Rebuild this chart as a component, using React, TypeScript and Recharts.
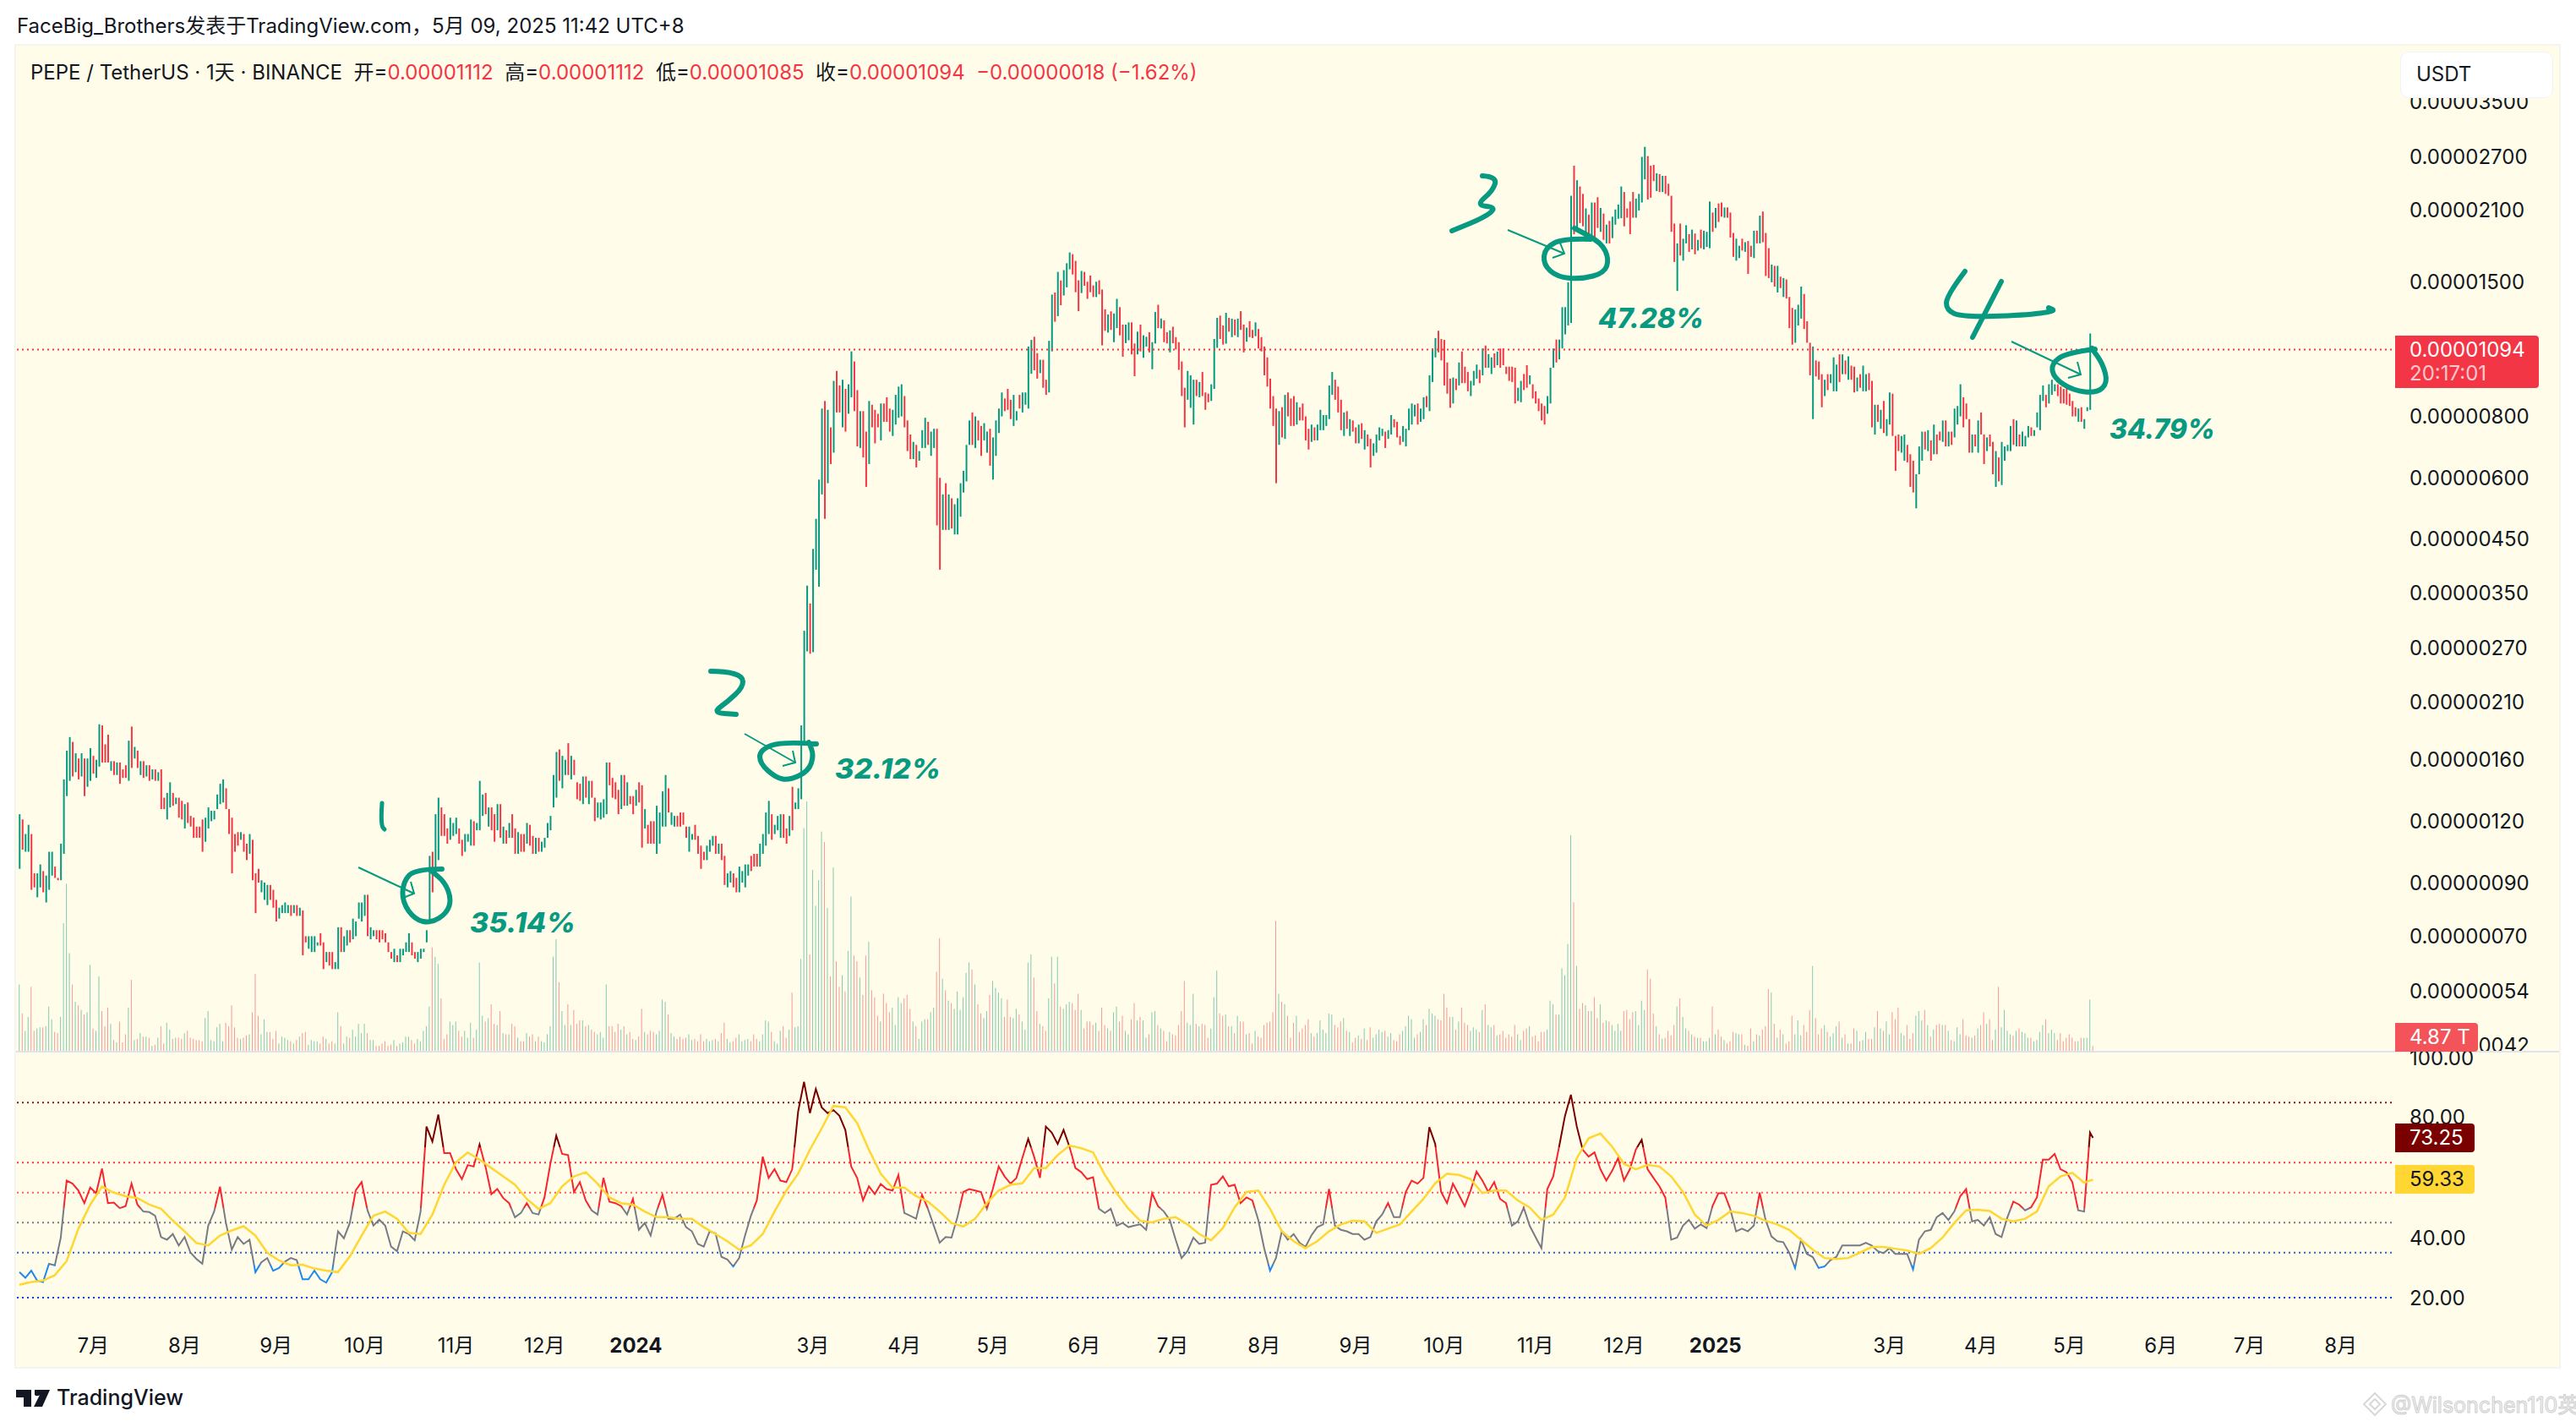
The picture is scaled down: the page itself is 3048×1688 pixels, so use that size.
// PEPE / TetherUS daily chart with volume and RSI panes
import { ComposedChart, Bar, Line, XAxis, YAxis, ReferenceLine } from "recharts";

// prices are in units of 0.00000001 USDT. each pair is one day: from,to
// from < to is an up day (low,high), from > to is a down day (high,low)
const movesJun2023 = [
  96,124, 121,105, 104,113, 104,118, 113,87, 94,88, 84,94, 88,98, 95,86, 82,93, 87,104, 93,104, 97,92, 92,91, 91,108, 103,146, 135,167, 145,178, 174,148, 151,165, 161,146, 148,165, 161,135, 141,161, 145,169,
  163,150, 147,160, 155,189, 188,158, 172,158, 180,158, 152,159, 159,149, 149,158, 158,143, 153,147, 156,147, 145,175, 187,154, 161,170, 167,154, 149,159, 159,147, 148,156, 156,145, 146,153, 153,145, 145,151, 153,127, 134,127, 121,137, 128,144, 137,129, 130,134, 134,122, 132,121,
  116,130, 131,119, 123,117, 122,111, 117,111, 117,111, 121,104, 109,122, 116,128, 120,126, 121,126, 127,136, 130,143, 131,146, 140,127, 127,113, 122,94, 113,104, 114,107, 110,114, 113,104, 108,100, 103,113, 110,91, 94,78, 96,90, 86,91, 83,90, 81,89, 89,83, 87,80,
  83,75, 76,80, 78,81, 78,82, 78,81, 81,77, 78,81, 81,77, 77,80, 79,64, 70,68, 66,70, 65,70, 65,70, 67,68, 71,67, 68,60, 62,65, 65,61, 65,60, 60,62, 60,73, 73,65, 65,70, 67,72, 72,68, 69,76, 70,75, 76,82, 75,82,
  77,85, 85,70, 69,73, 70,72, 72,69, 72,68, 72,69, 71,68, 68,65, 65,63, 62,66, 64,62, 62,66, 64,66, 65,68, 65,71, 68,64, 65,63, 62,65, 63,66, 65,66, 68,72, 75,102, 104,86, 93,124, 100,134, 128,112, 124,112, 116,108, 110,122, 112,119,
  113,122, 116,108, 110,102, 104,113, 109,113, 107,121, 120,107, 115,119, 115,145, 123,136, 137,124, 117,128, 128,115, 124,109, 115,130, 130,111, 108,117, 115,108, 111,119, 124,111, 116,103, 103,114, 113,104, 113,104, 108,119, 118,107, 112,103, 103,111, 111,104, 104,109, 106,111,
  111,119, 115,123, 128,149, 134,166, 168,145, 140,163, 149,160, 173,149, 146,163, 160,149, 144,133, 143,132, 130,148, 148,134, 130,145, 145,134, 134,120, 122,131, 121,131, 122,133, 124,158, 158,142, 147,134, 144,133, 139,124, 127,149, 149,129, 129,144, 135,130, 135,124, 129,139,
  144,131, 142,106, 116,127, 118,108, 120,108, 120,108, 103,129, 108,125, 117,138, 117,149, 140,125, 118,125, 117,123, 123,117, 125,117, 125,118, 117,111, 104,117, 110,113, 118,110, 112,103, 107,96, 104,100, 100,107, 104,110, 107,112, 112,103, 103,108, 108,100, 102,89,
  88,94, 90,95, 94,88, 92,86, 86,97, 90,95, 88,98, 93,98, 102,95, 103,97, 103,97, 97,108, 103,113, 107,125, 113,132, 124,110, 113,118, 115,123, 111,124, 124,111, 116,108, 112,123, 141,115, 127,131, 127,140, 133,188,
];
const movesMar2024 = [
  172,293, 266,362, 333,263, 265,430, 390,495, 360,595, 555,830, 860,495, 585,825, 760,640, 675,945, 990,815, 925,815, 760,950, 910,745, 810,930, 875,1085, 1035,820, 905,695, 690,820, 820,660, 745,575, 640,860, 845,760, 825,705, 810,760, 715,850, 850,780, 875,780, 830,745, 730,825, 770,885, 795,920, 800,930, 880,760, 785,680, 735,655, 655,710, 700,630, 650,680, 690,750, 690,795, 780,700, 665,745, 690,755, 755,480, 600,390, 470,555, 585,470, 470,555, 545,473, 460,530, 460,545, 500,585, 560,620, 590,700, 700,785, 815,700, 690,800, 785,715, 765,665, 715,775, 675,745, 755,635, 595,725, 665,785, 740,830, 800,895, 870,820, 910,825, 865,790, 765,885, 785,820, 885,830, 815,895, 845,895,
];
const movesMay2024 = [
  830,1110, 977,1145, 1162,993, 1076,955, 980,1043, 1043,915, 950,885, 895,1140, 1085,1416, 1430,1247, 1280,1575, 1513,1347, 1410,1588, 1465,1640, 1594,1725, 1711,1556, 1658,1432, 1514,1310, 1426,1582, 1575,1476, 1504,1388, 1548,1432, 1478,1400, 1400,1504, 1514,1418, 1450,1116, 1322,1195, 1185,1290, 1309,1200, 1133,1296, 1210,1388, 1335,1170, 1230,1058, 1128,1230, 1143,1243, 1243,1070, 1126,966, 1070,1190, 1230,1085, 1053,1170, 1110,1162, 1187,1080, 998,1133, 1126,1305, 1350,1210, 1208,1266, 1255,1133, 1187,1126, 1080,1197, 1218,1127, 1160,1095, 1133,995,
  1035,880, 915,760, 865,990, 833,970, 770,950, 950,880, 875,940, 985,880, 895,825, 890,855, 860,930, 910,1150, 1103,1270, 1283,1150, 1225,1120, 1125,1300, 1270,1190, 1160,1265, 1260,1170, 1160,1265, 1310,1200, 1230,1080, 1135,1213, 1250,1160, 1200,1155, 1165,1243, 1205,1100, 1160,1085, 1110,970, 1055,920, 955,830,
  880,765, 830,585, 700,820, 835,725, 720,885, 895,800, 870,765, 880,765, 770,855, 835,785, 850,785, 800,715, 755,685, 710,770, 760,715, 715,770, 750,825, 750,805, 765,805, 790,925, 885,985, 950,865, 920,815, 865,750, 730,815, 820,755, 730,790, 785,745, 760,705, 705,770, 775,720, 685,750, 735,695, 720,630, 665,705, 675,735, 715,760, 730,755, 745,690, 720,750, 735,805, 790,760, 780,725, 730,700, 710,765, 695,755, 750,830, 770,850, 800,845, 850,770, 780,830, 790,875, 880,835, 820,970, 940,1100, 1055,1155, 1195,1080, 1150,1040, 1145,925, 1030,890, 955,833, 850,960, 955,905, 925,1030, 1085,935, 1010,935, 985,900, 880,945, 925,990, 955,1020, 995,935, 970,1100, 1115,1005,
];
const movesOct2024 = [
  1005,1071, 976,1055, 1075,1005, 1017,1084, 1100,1005, 1100,1017, 1010,976, 1010,945, 1010,940, 1005,850, 860,915, 855,945, 976,905, 1017,915, 930,970, 930,870, 900,850, 870,820, 850,785, 840,770, 810,880, 850,1005, 1005,1100, 1147,1030, 1045,1147, 1100,1335, 1175,1335, 1225,1500, 1240,2250, 2590,1880, 1930,2420, 2350,1980, 2270,1950, 1820,2120, 2060,1845, 1830,2180, 2180,1845, 2235,1935, 1900,2125, 2070,1830, 1800,1965, 2000,1800, 1845,2040, 1965,2110, 2020,2160, 2025,2350, 2290,1950, 2120,2030, 2190,1880, 2290,2030, 2030,2220, 2100,2270, 2180,2700, 2430,2830, 2710,2210, 2590,2230, 2600,2410, 2300,2500, 2490,2290, 2290,2470, 2470,2270, 2380,2250, 2250,1900, 1975,1650, 1440,1800, 1975,1700, 1660,1840, 1800,1960, 1880,1730, 1750,1920, 1885,1710, 1740,1830, 1920,1760, 1750,1910, 1770,1900, 1760,2190, 2080,1900, 1935,2125, 2170,1990, 2180,2040, 2030,2130, 2130,2030, 2080,1850, 1890,1690, 1660,1840, 1680,1780, 1840,1740, 1730,1810, 1820,1560, 1780,1690, 1680,1910, 1910,1800, 1800,2050, 2090,1810, 1890,1545, 1760,1530, 1500,1630, 1620,1470, 1430,1620, 1540,1460, 1400,1530, 1520,1390, 1400,1210, 1330,1120, 1130,1320, 1225,1350, 1265,1470, 1420,1205, 1250,1130, 1130,970, 790,1110, 1040,965, 1035,950, 975,835, 880,950, 975,905, 935,975, 900,1055, 900,1020, 1070,940, 975,1070, 1040,975, 950,1060, 1015,950, 1010,895, 900,960, 975,915, 900,1015, 900,975, 980,905, 945,760, 735,845, 845,780, 755,825, 860,740, 730,790, 770,895, 890,730, 730,620, 735,680, 675,730, 650,735, 700,645, 670,575, 650,560, 520,610, 610,695, 650,745, 745,685, 680,750, 715,650, 670,770, 735,670, 745,715, 710,785, 785,695, 695,745, 745,700, 725,830, 770,840, 800,930, 875,760, 850,790, 790,675, 675,735, 735,695, 675,785, 815,735, 735,640, 680,725, 735,695, 710,610, 575,680, 660,590, 580,710, 650,695, 680,700, 680,765, 790,700, 695,785, 735,695, 695,745, 695,730, 725,765, 760,730, 730,750, 760,815, 750,885, 860,925, 885,835, 850,930, 885,950, 900,930, 930,880, 920,850, 910,850, 915,845, 890,840, 860,800, 835,800, 780,830, 835,780, 755,790, 820,835, 825,1180, 1112,1085,
];

// volume per day in trillions of PEPE
const volumesA = [
  58,33,18,30,56,18,20,21,21,22,39,28,17,16,30,111,145,85,58,43,40,36,32,34,75,20,18,65,35,22,38,24,10,8,26,8,15,38,62,10,11,16,13,13,12,5,6,12,22,7,25,19,11,12,12,11,16,18,12,11,10,10,9,29,35,10,9,21,24,9,25,22,40,21,12,11,12,14,15,34,67,31,15,28,17,17,11,18,7,13,12,10,9,7,10,13,16,17,6,10,9,9,7,13,11,7,9,7,34,22,7,13,12,19,13,24,16,24,16,10,10,5,5,7,9,5,6,10,5,7,8,13,13,10,7,11,9,18,22,39,90,82,76,46,11,15,26,23,26,18,13,18,12,25,12,19,77,31,26,29,41,24,23,35,16,15,15,24,22,12,9,9,16,13,15,9,13,9,8,15,22,82,97,60,35,23,41,23,36,24,27,27,22,23,19,17,15,17,12,58,22,22,17,24,19,22,15,17,11,10,13,37,17,15,18,17,15,18,45,43,32,16,13,11,13,11,12,15,10,11,9,15,9,11,9,10,11,9,16,25,11,8,9,12,15,9,10,11,9,15,11,9,15,27,26,17,9,7,18,22,12,19,51,21,22,80,193,216,84,
];
const volumesB = [
  157,126,148,190,181,124,65,159,78,56,66,52,87,134,83,78,64,49,83,95,53,47,31,26,50,42,34,38,23,47,42,46,49,37,26,22,11,26,28,28,34,38,69,98,63,53,44,42,37,52,36,47,68,77,71,58,41,33,29,35,49,61,55,51,46,30,45,30,29,37,32,26,19,77,84,64,35,24,22,18,46,82,59,82,39,37,41,43,42,36,50,36,20,26,26,23,25,18,38,23,20,18,34,39,26,31,18,15,28,42,27,30,27,12,15,34,35,23,20,18,9,17,15,14,23,35,61,25,23,50,24,22,24,23,12,20,47,70,33,31,32,22,22,16,31,26,26,15,16,7,18,13,12,23,25,26,34,113,50,43,41,31,12,25,31,17,20,23,28,16,13,16,27,19,16,33,32,23,21,26,29,18,17,8,12,14,11,20,10,21,12,15,19,17,18,13,16,10,9,15,18,22,31,28,12,15,17,28,23,37,33,31,28,27,50,38,30,30,19,26,38,25,23,18,21,19,17,36,41,
];
const volumesC = [
  23,21,23,14,15,18,12,15,13,23,15,10,18,20,22,13,14,9,17,17,19,44,41,32,32,72,66,93,187,129,74,37,42,40,35,35,47,29,41,25,27,26,23,18,24,18,35,36,28,34,35,23,44,36,71,63,33,22,15,11,12,18,14,23,39,46,30,20,18,15,13,12,12,9,9,12,39,15,19,13,10,7,9,17,16,15,15,6,5,20,9,15,14,19,22,54,51,24,12,19,15,7,9,31,15,27,14,23,17,36,74,29,15,20,23,17,13,16,22,26,12,15,7,7,20,18,9,10,17,11,11,21,35,20,18,26,15,34,28,38,16,14,23,11,16,31,35,27,36,23,13,19,23,24,23,23,18,10,9,21,15,28,14,13,12,14,20,23,34,24,28,10,19,56,21,36,18,15,14,18,20,17,16,12,12,9,10,17,23,28,16,19,16,10,16,9,12,15,12,9,9,12,12,12,45,4.87,
];

// RSI read every second day, last value is the live one
const rsiEveryTwoDays = [
  28.5,26.6,29,25.7,25.2,31.3,30.8,40,59,58,55.7,51.5,56.7,54.8,63,51.5,51.7,49.8,50.5,58,51,48.7,48.5,47.3,40.2,39.3,41.2,37.4,40.2,35,32.9,31.3,44,48.7,57,44.9,36,40.2,37.9,39.3,28.5,31.8,33.2,29,29.9,32,33.2,32.5,26.1,26.1,29,26.1,25,28.5,42.1,39.8,44.9,55.7,58.5,49.1,44,46,44,37,35.5,42.1,41.2,39.1,48.7,77,72,81,68.2,68.2,62.8,59.5,64.2,63.7,71,63.7,54.5,56.2,53.2,51.5,46.8,48.2,51.5,48.2,47.7,53.4,64.6,74,67.9,67.5,55.2,58.5,52.4,49.1,47.7,59.9,
  52,51.5,50.5,47.7,52.9,42.6,44.9,40.7,48.7,54.3,46.3,46.3,47.7,43.5,42.1,37.9,37,42.1,41.4,33.6,32.7,30.4,33.2,40.7,47.3,52.4,67,59.9,62.8,59,58.5,62.8,82,91.9,81.5,89.5,83.4,81.5,82.5,80.6,75.9,63.7,59.9,52.4,57.1,54.5,57.9,56.2,55.7,60.9,48.2,47.3,46.3,54.3,49.6,44,38.3,40.2,40,46.8,55.2,56.2,55.7,55.2,49.6,56.2,63.7,60.4,58,59.9,66.5,72.9,67,59.9,77,75,71.2,75.9,70.3,63.2,61.8,59.5,60.1,49.6,48.2,49.6,44,44.9,43.5,44,44.4,42.6,54.8,50.5,48.7,45.9,39.3,33.2,35.5,40,
  37.9,38.3,57.6,58,60.4,57.1,57.6,51.5,53.4,52.4,45.9,36.5,29,33.2,42.1,39.3,41.2,38.3,36.9,40.7,43.5,44.4,56.2,44,42.6,42.1,41.2,41.2,39.3,40.2,45.4,47.7,51.5,46.8,46.8,55.2,59,58,59.9,76.8,71.2,55.2,51.5,58,54.3,50.5,55.7,62,59,55.2,58.5,52.9,51.5,44,45.4,50,44,40.2,36.5,56.2,60.4,70.3,80.6,87.6,77,69.3,67,68.4,62.8,59,62.3,66.5,59,62.8,69.3,72.6,62.8,59.9,57.1,53.4,39.3,40,44,45.9,43,44.4,43.2,50.5,54.8,54.8,49.6,42.1,43,42.1,44,55,45.9,40.4,38.8,38.5,
  35,29.9,39.3,34.6,33.5,29.9,30.4,32.5,33.6,37.4,37.4,37.4,37.4,38.3,37.4,35.5,34.8,36.5,34.6,34.6,34.6,29.4,39.3,42.1,42.6,46.8,48.2,45.9,48.7,53.8,56.2,45.4,45.9,44,46.8,41.2,40.2,46.8,52,51,49.1,50.1,53.4,66,66,67.9,62.8,61.8,58.5,49.1,48.7,75,
];
const rsiLast = 73.25;

// RSI moving average read every fourth day
const rsiMaEveryFourDays = [
  24.3,25.2,25.7,27.5,32.2,43,51,57,55,53.8,53.2,51,49.6,45.7,42.1,38.2,37.4,40.7,42.4,43.8,40.7,35,32.4,30.8,31,29.7,29,28.5,33.7,40.7,47.3,48.7,46.3,41.6,41.2,47.7,57.6,65.1,68.4,66,63.2,60.4,57.6,52.9,49.6,51.5,57.1,60.4,61.8,58,53.4,51.5,51,48.7,46.8,46.8,46.3,46.3,43.5,41.2,38.8,36,37.4,41.2,48.7,55.7,61.3,69.3,76.4,83.9,83.4,78.2,69.3,61.3,56.7,56.7,53.8,52,48.7,44.9,43.7,46.3,51.5,55.7,57.6,58.1,63.2,63.2,67.5,70.7,69.8,68.4,60.9,54.8,49.6,45.6,45.1,46.3,46.8,44.4,41.2,39.1,43.2,50.1,55.2,55.7,49.6,42.1,38.8,36.5,38.8,42.1,44.4,45.6,45.4,41.6,43,44.4,48.7,52.9,58.1,61.3,60.9,59.5,54.8,55.7,55.7,52.4,50.1,45.9,47.7,53.4,66.5,73.1,74.7,70.3,64.6,62.8,64.2,63.7,60.4,55.2,47.7,44,45.9,48.7,48.2,47.3,45.6,44.4,42.6,39.3,36,33.2,32.9,33.2,35,36.9,36.9,36.3,35.7,34.6,36.5,40,44.9,49.1,49.3,48.9,46.3,45.4,46.3,48.7,57.1,60.4,61.6,58.3,
];
const rsiMaLast = 59.33;

const rsiLevels = [
  { value: 85, color: "#801922" },
  { value: 65, color: "#F23645" },
  { value: 55, color: "#FF5F5F" },
  { value: 45, color: "#787B86" },
  { value: 35, color: "#2962C4" },
  { value: 20, color: "#0D3FE0" },
];

const priceTicks = [3500, 2700, 2100, 1500, 800, 600, 450, 350, 270, 210, 160, 120, 90, 70, 54, 42];
const rsiTicks = [100, 80, 60, 40, 20];
const monthTicks = [25, 56, 87, 117, 148, 178, 209, 269, 300, 330, 361, 391, 422, 453, 483, 514, 544, 575, 634, 665, 695, 726, 756, 787];
const monthLabels = ["7月", "8月", "9月", "10月", "11月", "12月", "2024", "3月", "4月", "5月", "6月", "7月", "8月", "9月", "10月", "11月", "12月", "2025", "3月", "4月", "5月", "6月", "7月", "8月"];

const GREEN = "#089981";
const RED = "#F23645";
const FONT = "Inter, 'Noto Sans CJK SC', sans-serif";
const DAYS = 704;
const DAY_DOMAIN = [-1.15, 804.3];
const PRICE_DOMAIN = [40.75, 4547];
const RSI_DOMAIN = [11.27, 101.97];
const RSI_PLOT_HEIGHT = 322;

const moves: number[][] = [];
const place = (list: number[], start: number) => {
  for (let n = 0; n < list.length / 2; n++) moves[start + n] = [list[2 * n], list[2 * n + 1]];
};
place(movesJun2023, 0);
place(movesMar2024, 266);
place(movesMay2024, 342);
place(movesOct2024, DAYS - movesOct2024.length / 2);

const chartData = Array.from({ length: DAYS }, (_, day) => {
  const move = moves[day];
  const volume = day < 269 ? volumesA[day] : day < 498 ? volumesB[day - 269] : volumesC[day - 498];
  let rsi: number | null = day % 2 === 0 ? rsiEveryTwoDays[day / 2] ?? null : null;
  let rsiMa: number | null = day % 4 === 0 ? rsiMaEveryFourDays[day / 4] ?? null : null;
  if (day === DAYS - 1) {
    rsi = rsiLast;
    rsiMa = rsiMaLast;
  }
  return {
    day,
    range: move ? [Math.min(move[0], move[1]), Math.max(move[0], move[1])] : null,
    up: move ? move[1] > move[0] : true,
    volume: volume ?? null,
    rsi,
    rsiMa,
  };
});

// drawn by hand on the original, in page pixels
const inkStrokes = [
  { w: 5, pts: [[452, 950], [451, 965], [452, 978], [455, 981]] },
  { w: 6, pts: [[523, 1028], [491, 1028], [477, 1043], [476, 1067], [491, 1088], [510, 1092], [529, 1080], [534, 1063], [526, 1043], [510, 1030]] },
  { w: 6, pts: [[841, 794], [858, 794], [879, 800], [879, 813], [861, 830], [843, 843], [871, 845]] },
  { w: 6, pts: [[966, 880], [925, 877], [899, 887], [899, 903], [918, 920], [934, 923], [957, 912], [963, 893], [957, 878]] },
  { w: 6, pts: [[1754, 208], [1771, 209], [1767, 225], [1746, 243], [1771, 245], [1757, 257], [1718, 273]] },
  { w: 6, pts: [[1882, 283], [1850, 282], [1828, 293], [1826, 313], [1843, 328], [1872, 330], [1898, 323], [1904, 307], [1895, 287], [1863, 270]] },
  { w: 6, pts: [[2325, 321], [2303, 350], [2303, 367], [2322, 375], [2395, 373], [2433, 368], [2424, 364]] },
  { w: 6, pts: [[2368, 333], [2334, 399]] },
  { w: 6, pts: [[2479, 413], [2446, 417], [2427, 430], [2430, 447], [2453, 462], [2481, 465], [2494, 453], [2488, 430], [2475, 412]] },
];
const inkArrows = [
  [[424, 1026], [490, 1057], [486, 1043], [490, 1057], [477, 1062]],
  [[881, 868], [941, 902], [938, 888], [941, 902], [926, 906]],
  [[1784, 272], [1851, 300], [1845, 285], [1851, 300], [1837, 305]],
  [[2380, 404], [2462, 443], [2458, 428], [2462, 443], [2447, 447]],
];
const inkLabels = [
  { x: 556, y: 1092, text: "35.14%" },
  { x: 988, y: 910, text: "32.12%" },
  { x: 1891, y: 377, text: "47.28%" },
  { x: 2496, y: 508, text: "34.79%" },
];

const smoothPath = (pts: number[][]) => {
  let d = `M${pts[0][0]} ${pts[0][1]}`;
  for (let i = 1; i < pts.length - 1; i++) {
    const mx = (pts[i][0] + pts[i + 1][0]) / 2;
    const my = (pts[i][1] + pts[i + 1][1]) / 2;
    d += ` Q${pts[i][0]} ${pts[i][1]} ${mx} ${my}`;
  }
  const last = pts[pts.length - 1];
  return d + ` L${last[0]} ${last[1]}`;
};

const CandleShape = (props: any) => {
  const { x, y, width, height, payload } = props;
  return <rect x={x} y={y} width={width} height={Math.max(height, 1)} fill={payload.up ? GREEN : RED} />;
};

const VolumeShape = (props: any) => {
  const { x, y, width, height, payload } = props;
  return <rect x={x} y={y} width={width} height={height} fill={payload.up ? GREEN : RED} fillOpacity={0.5} />;
};

const PriceTick = ({ x, y, payload }: any) => (
  <text x={x} y={y} dy={8.5} fontSize={24} fontFamily={FONT} fill="#131722">
    {(payload.value / 1e8).toFixed(8)}
  </text>
);

const RsiTick = ({ x, y, payload }: any) => (
  <text x={x} y={y} dy={8.5} fontSize={24} fontFamily={FONT} fill="#131722">
    {payload.value.toFixed(2)}
  </text>
);

const MonthTick = ({ x, y, payload }: any) => {
  const label = monthLabels[monthTicks.indexOf(payload.value)];
  const isYear = label.length === 4;
  return (
    <text x={x} y={y} dy={34} fontSize={24} fontFamily={FONT} fontWeight={isYear ? 700 : 400} textAnchor="middle" fill="#131722">
      {label}
    </text>
  );
};

const rsiOffset = (v: number) => (RSI_DOMAIN[1] - v) / (RSI_DOMAIN[1] - RSI_DOMAIN[0]);

const PriceBox = ({ top, height, width, bg, color = "#fff", children }: any) => (
  <div
    style={{
      position: "absolute",
      left: 2834,
      top,
      width: width - 17,
      height,
      paddingLeft: 17,
      background: bg,
      color,
      borderRadius: "0 4px 4px 0",
      fontSize: 24,
      lineHeight: `${height}px`,
    }}
  >
    {children}
  </div>
);

const Num = ({ children }: any) => <span style={{ color: RED }}>{children}</span>;

export default function App() {
  return (
    <div style={{ position: "absolute", left: 0, top: 0, width: 3048, height: 1688, background: "#fff", overflow: "hidden", fontFamily: FONT, color: "#131722" }}>
      <div style={{ position: "absolute", left: 20, top: 16, fontSize: 24, lineHeight: "30px", whiteSpace: "nowrap" }}>
        FaceBig_Brothers发表于TradingView.com，5月 09, 2025 11:42 UTC+8
      </div>

      <div style={{ position: "absolute", left: 19, top: 54, width: 3009, height: 1563, background: "#FFFDE9", boxShadow: "0 0 0 2px #F5F5F0" }} />

      <div style={{ position: "absolute", left: 19, top: 54 }}>
        <ComposedChart width={3009} height={1190} data={chartData} margin={{ top: 0, right: 0, bottom: 0, left: 0 }}>
          <XAxis xAxisId="day" dataKey="day" type="number" domain={DAY_DOMAIN} allowDataOverflow hide />
          <XAxis xAxisId="volDay" dataKey="day" type="number" domain={DAY_DOMAIN} allowDataOverflow hide />
          <YAxis yAxisId="vol" domain={[0, 868.6]} allowDataOverflow hide />
          <YAxis
            yAxisId="price"
            orientation="right"
            scale="log"
            domain={PRICE_DOMAIN}
            allowDataOverflow
            ticks={priceTicks}
            interval={0}
            width={198}
            axisLine={false}
            tickLine={false}
            tickSize={0}
            tickMargin={21}
            tick={<PriceTick />}
          />
          <ReferenceLine xAxisId="day" yAxisId="price" y={1094} stroke={RED} strokeWidth={2} strokeDasharray="2 4" />
          <Bar xAxisId="volDay" yAxisId="vol" dataKey="volume" barSize={1} shape={<VolumeShape />} isAnimationActive={false} />
          <Bar xAxisId="day" yAxisId="price" dataKey="range" barSize={2} shape={<CandleShape />} isAnimationActive={false} />
        </ComposedChart>
      </div>

      <div style={{ position: "absolute", left: 19, top: 1243, width: 3009, height: 2, background: "#E0E3EB" }} />

      <div style={{ position: "absolute", left: 19, top: 1244 }}>
        <ComposedChart width={3009} height={373} data={chartData} margin={{ top: 0, right: 0, bottom: 0, left: 0 }}>
          <defs>
            <linearGradient id="rsiColor" gradientUnits="userSpaceOnUse" x1={0} x2={0} y1={0} y2={RSI_PLOT_HEIGHT}>
              <stop offset={rsiOffset(70)} stopColor="#7A0000" />
              <stop offset={rsiOffset(70)} stopColor="#F7252F" />
              <stop offset={rsiOffset(50)} stopColor="#F7252F" />
              <stop offset={rsiOffset(50)} stopColor="#787B86" />
              <stop offset={rsiOffset(31)} stopColor="#787B86" />
              <stop offset={rsiOffset(31)} stopColor="#1E88F0" />
            </linearGradient>
          </defs>
          <XAxis
            dataKey="day"
            type="number"
            domain={DAY_DOMAIN}
            allowDataOverflow
            ticks={monthTicks}
            interval={0}
            height={51}
            axisLine={false}
            tickLine={false}
            tickSize={0}
            tickMargin={0}
            tick={<MonthTick />}
          />
          <YAxis
            orientation="right"
            domain={RSI_DOMAIN}
            allowDataOverflow
            ticks={rsiTicks}
            interval={0}
            width={198}
            axisLine={false}
            tickLine={false}
            tickSize={0}
            tickMargin={21}
            tick={<RsiTick />}
          />
          {rsiLevels.map((level) => (
            <ReferenceLine key={level.value} y={level.value} stroke={level.color} strokeWidth={2} strokeDasharray="2 4" />
          ))}
          <Line dataKey="rsi" stroke="url(#rsiColor)" strokeWidth={2} dot={false} connectNulls isAnimationActive={false} />
          <Line dataKey="rsiMa" stroke="#FFD632" strokeWidth={2.5} dot={false} connectNulls isAnimationActive={false} />
        </ComposedChart>
      </div>

      <div style={{ position: "absolute", left: 36, top: 71, fontSize: 24, lineHeight: "30px", whiteSpace: "pre" }}>
        {"PEPE / TetherUS · 1天 · BINANCE  开="}
        <Num>0.00001112</Num>
        {"  高="}
        <Num>0.00001112</Num>
        {"  低="}
        <Num>0.00001085</Num>
        {"  收="}
        <Num>0.00001094</Num>
        {"  "}
        <Num>−0.00000018 (−1.62%)</Num>
      </div>

      <div style={{ position: "absolute", left: 2840, top: 61, width: 181, height: 55, boxSizing: "border-box", background: "#fff", border: "1px solid #F0F3FA", borderRadius: 10, paddingLeft: 18, fontSize: 24, lineHeight: "51px" }}>
        USDT
      </div>

      <div style={{ position: "absolute", left: 2834, top: 397, width: 170, height: 62, background: RED, borderRadius: "0 4px 4px 0", paddingLeft: 17, boxSizing: "border-box", color: "#fff", fontSize: 24 }}>
        <div style={{ lineHeight: "28px", marginTop: 3 }}>0.00001094</div>
        <div style={{ lineHeight: "28px", color: "#FBC7CB" }}>20:17:01</div>
      </div>
      <PriceBox top={1210} height={34} width={98} bg="#F25459">4.87 T</PriceBox>
      <PriceBox top={1329} height={34} width={94} bg="#7A0000">73.25</PriceBox>
      <PriceBox top={1378} height={34} width={94} bg="#FFD632" color="#131722">59.33</PriceBox>

      <svg width={3048} height={1688} style={{ position: "absolute", left: 0, top: 0, pointerEvents: "none" }}>
        {inkStrokes.map((s, i) => (
          <path key={i} d={smoothPath(s.pts)} fill="none" stroke={GREEN} strokeWidth={s.w} strokeLinecap="round" strokeLinejoin="round" />
        ))}
        {inkArrows.map((a, i) => (
          <g key={i} fill="none" stroke={GREEN} strokeWidth={2}>
            <line x1={a[0][0]} y1={a[0][1]} x2={a[1][0]} y2={a[1][1]} />
            <polyline points={a.slice(2).map((p) => p.join(",")).join(" ")} />
          </g>
        ))}
        {inkLabels.map((l) => (
          <text key={l.text} x={l.x} y={l.y} dy={11} fontSize={32} fontWeight={800} fontStyle="italic" fontFamily={FONT} fill={GREEN} textLength={125} lengthAdjust="spacingAndGlyphs">
            {l.text}
          </text>
        ))}
        <path d="M19 1644H37V1664H28V1653H19Z M41 1644H59L50 1664H40L47 1650A4 4 0 0 1 41 1650Z" fill="#131722" />
        <g fill="none" stroke="#D8D8D8" strokeWidth={2}>
          <path d="M2797 1661L2810 1648L2823 1661L2810 1674Z" />
          <path d="M2804 1661L2810 1655L2816 1661L2810 1667Z" />
        </g>
      </svg>

      <div style={{ position: "absolute", left: 67, top: 1634, fontSize: 25, lineHeight: "38px", fontWeight: 500 }}>TradingView</div>
      <div style={{ position: "absolute", left: 2829, top: 1644, fontSize: 25, lineHeight: "36px", whiteSpace: "nowrap", color: "#F4F4F4", WebkitTextStroke: "1px #CFCFCF" }}>
        @Wilsonchen110英
      </div>
    </div>
  );
}
